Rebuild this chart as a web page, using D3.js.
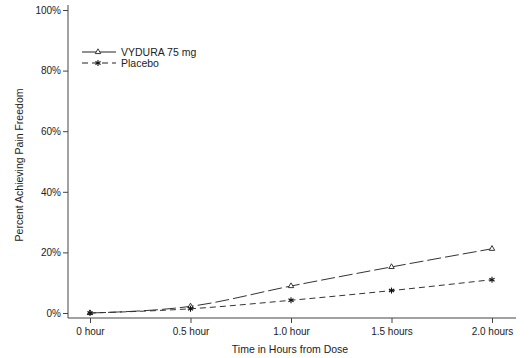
<!DOCTYPE html>
<html><head><meta charset="utf-8">
<script src="https://cdn.jsdelivr.net/npm/d3@7"></script>
<style>body{margin:0;background:#fff}svg{display:block}text{font-family:"Liberation Sans",Arial,sans-serif;fill:#222}</style>
</head><body><svg id="c" width="531" height="358"></svg>
<script>
const categories = ["0 hour","0.5 hour","1.0 hour","1.5 hours","2.0 hours"];
const vydura = [0, 2.2, 8.9, 15.2, 21.2];
const placebo = [0, 1.4, 4.2, 7.4, 11.0];
const yTicks = [0,20,40,60,80,100];
const seriesNames = ["VYDURA 75 mg","Placebo"];

const svg = d3.select("#c");
const x = d3.scalePoint().domain(categories).range([90,492]);
const y = d3.scaleLinear().domain([0,100]).range([313,10]);
const ax0 = 68, ay0 = 318;

svg.append("line").attr("x1",ax0).attr("x2",ax0).attr("y1",5).attr("y2",ay0).attr("stroke","#444");
svg.append("line").attr("x1",ax0).attr("x2",516).attr("y1",ay0).attr("y2",ay0).attr("stroke","#444");

const ya = svg.append("g").attr("transform",`translate(${ax0},0)`)
  .call(d3.axisLeft(y).tickValues(yTicks).tickFormat(d=>d+"%").tickSize(5).tickPadding(2));
ya.select(".domain").remove();
const xa = svg.append("g").attr("transform",`translate(0,${ay0})`)
  .call(d3.axisBottom(x).tickSize(5).tickPadding(5));
xa.select(".domain").remove();
svg.selectAll(".tick line").attr("stroke","#444");
svg.selectAll(".tick text").style("font-size","10px").style("font-family","'Liberation Sans',Arial,sans-serif").attr("fill","#222");

svg.append("text").attr("x",290).attr("y",353).attr("text-anchor","middle").style("font-size","10.5px").text("Time in Hours from Dose");
svg.append("text").attr("transform","translate(23,165) rotate(-90)").attr("text-anchor","middle").style("font-size","10.5px").text("Percent Achieving Pain Freedom");

const line = d3.line().x((d,i)=>x(categories[i])).y(d=>y(d)).curve(d3.curveMonotoneX);
svg.append("path").datum(vydura).attr("d",line).attr("fill","none").attr("stroke","#333").attr("stroke-width",1).attr("stroke-dasharray","14,4");
svg.append("path").datum(placebo).attr("d",line).attr("fill","none").attr("stroke","#333").attr("stroke-width",1).attr("stroke-dasharray","6,4");

const tri = d3.symbol().type(d3.symbolTriangle).size(13);
function asterisk(g,cx,cy){
  const r=3;
  for(let k=0;k<3;k++){const a=k*Math.PI/3+Math.PI/2;
    g.append("line").attr("x1",cx-r*Math.cos(a)).attr("y1",cy-r*Math.sin(a)).attr("x2",cx+r*Math.cos(a)).attr("y2",cy+r*Math.sin(a)).attr("stroke","#111").attr("stroke-width",1.1);}
}
svg.selectAll(".tri").data(vydura).enter().append("path").attr("d",tri)
  .attr("transform",(d,i)=>`translate(${x(categories[i])},${y(d)})`).attr("fill","#fff").attr("stroke","#222").attr("stroke-width",0.9);
const pg = svg.append("g");
placebo.forEach((d,i)=>asterisk(pg,x(categories[i]),y(d)));

// legend
const lg = svg.append("g");
lg.append("line").attr("x1",82).attr("x2",116).attr("y1",52).attr("y2",52).attr("stroke","#222");
lg.append("path").attr("d",tri).attr("transform","translate(98,52)").attr("fill","#fff").attr("stroke","#222").attr("stroke-width",0.9);
lg.append("text").attr("x",121).attr("y",56).style("font-size","10.5px").text(seriesNames[0]);
lg.append("line").attr("x1",82).attr("x2",116).attr("y1",63).attr("y2",63).attr("stroke","#222").attr("stroke-dasharray","6,4");
asterisk(lg,98,63);
lg.append("text").attr("x",121).attr("y",67).style("font-size","10.5px").text(seriesNames[1]);
</script></body></html>
